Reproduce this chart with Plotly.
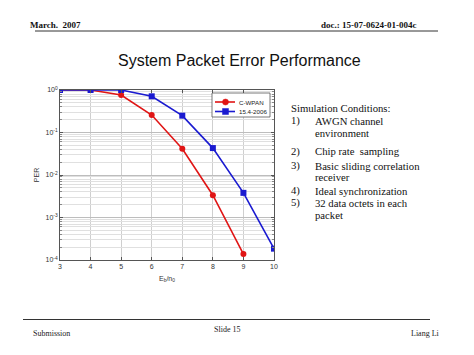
import plotly.graph_objects as go

ebn0 = [3, 4, 5, 6, 7, 8, 9, 10]
series_names = ["C-WPAN", "15.4-2006"]
cwpan_x = [3, 4, 5, 6, 7, 8, 9]
cwpan_per = [1.0, 1.0, 0.76, 0.257, 0.0415, 0.00334, 0.000138]
std_x = [3, 4, 5, 6, 7, 8, 9, 10]
std_per = [1.0, 1.0, 1.0, 0.71, 0.249, 0.043, 0.0038, 0.000185]
y_tickvals = [1e-4, 1e-3, 1e-2, 1e-1, 1e0]
y_ticktext = ["10<sup>-4</sup>", "10<sup>-3</sup>", "10<sup>-2</sup>", "10<sup>-1</sup>", "10<sup>0</sup>"]
y_minor = [m * 10.0 ** e for e in range(-4, 0) for m in range(2, 10)]
conditions = [
    ("", "Simulation Conditions:"),
    ("1)", "AWGN channel"),
    ("", "environment"),
    ("2)", "Chip rate  sampling"),
    ("3)", "Basic sliding correlation"),
    ("", "receiver"),
    ("4)", "Ideal synchronization"),
    ("5)", "32 data octets in each"),
    ("", "packet"),
]
cond_y = [108, 120.5, 132.5, 151, 165.5, 177, 190.5, 202.5, 214.5]

RED = "#e01515"
BLUE = "#1a1ad0"

O = 8  # default page body margin of the HTML page
W, H = 474 - O, 355 - O
L, R, T, B = 60 - O, 274 - O, 90 - O, 260 - O

def px(x):
    return (x - O - L) / (R - L)

def py(y):
    return (B - (y - O)) / (B - T)

fig = go.Figure()
fig.add_trace(go.Scatter(x=cwpan_x, y=cwpan_per, mode="lines+markers", name=series_names[0],
                         line=dict(color=RED, width=1.6),
                         marker=dict(symbol="circle", size=6, color=RED)))
fig.add_trace(go.Scatter(x=std_x, y=std_per, mode="lines+markers", name=series_names[1],
                         line=dict(color=BLUE, width=1.6),
                         marker=dict(symbol="square", size=6, color=BLUE)))
# invisible trace to activate the minor-grid overlay axis
fig.add_trace(go.Scatter(x=[3], y=[1], yaxis="y2", mode="markers", marker=dict(opacity=0),
                         showlegend=False, hoverinfo="skip"))

axis_font = dict(family="Liberation Sans, Arial", size=7, color="#333333")
fig.update_layout(
    width=W, height=H,
    margin=dict(l=L, r=W - R, t=T, b=H - B),
    paper_bgcolor="white", plot_bgcolor="white",
    showlegend=False,
    xaxis=dict(range=[3, 10], tickvals=ebn0, showgrid=True, gridcolor="#cfcfcf",
               gridwidth=0.8, ticks="inside", ticklen=3, tickcolor="#555555",
               showline=True, linecolor="#555555", linewidth=0.8, mirror="ticks",
               zeroline=False, tickfont=axis_font,
               title=dict(text="E<sub>b</sub>/n<sub>0</sub>", font=axis_font, standoff=6)),
    yaxis=dict(type="log", range=[-4, 0], tickvals=y_tickvals, ticktext=y_ticktext,
               showgrid=True, gridcolor="#bdbdbd", gridwidth=1.2,
               ticks="inside", ticklen=3, tickcolor="#555555",
               showline=True, linecolor="#555555", linewidth=0.8, mirror="ticks",
               zeroline=False, tickfont=axis_font,
               title=dict(text="PER", font=axis_font, standoff=5)),
    yaxis2=dict(type="log", range=[-4, 0], overlaying="y", tickvals=y_minor,
                showticklabels=False, showgrid=True, gridcolor="#e0e0e0", gridwidth=0.6,
                ticks="inside", ticklen=2, tickcolor="#888888",
                showline=False, mirror="ticks", zeroline=False),
)

hdr = dict(family="Liberation Serif, Times New Roman", size=9, color="#111111")
ann = []
ann.append(dict(x=px(28), y=py(25), xref="paper", yref="paper", text="<b>March.  2007</b>",
                showarrow=False, xanchor="left", yanchor="middle", font=hdr))
ann.append(dict(x=px(418), y=py(25), xref="paper", yref="paper", text="<b>doc.: 15-07-0624-01-004c</b>",
                showarrow=False, xanchor="right", yanchor="middle", font=hdr))
ann.append(dict(x=px(239), y=py(61), xref="paper", yref="paper", text="System Packet Error Performance",
                showarrow=False, xanchor="center", yanchor="middle",
                font=dict(family="Liberation Sans, Arial", size=16, color="#111111")))
ft = dict(family="Liberation Serif, Times New Roman", size=8, color="#222222")
ann.append(dict(x=px(31), y=py(333), xref="paper", yref="paper", text="Submission",
                showarrow=False, xanchor="left", yanchor="middle", font=ft))
ann.append(dict(x=px(227), y=py(329), xref="paper", yref="paper", text="Slide 15",
                showarrow=False, xanchor="center", yanchor="middle", font=ft))
ann.append(dict(x=px(442), y=py(333), xref="paper", yref="paper", text="Liang Li",
                showarrow=False, xanchor="right", yanchor="middle", font=ft))
cf = dict(family="Liberation Serif, Times New Roman", size=10.7, color="#111111")
for (num, txt), yy in zip(conditions, cond_y):
    if txt.startswith("Simulation"):
        ann.append(dict(x=px(289), y=py(yy), xref="paper", yref="paper", text=txt,
                        showarrow=False, xanchor="left", yanchor="middle", font=cf))
        continue
    if num:
        ann.append(dict(x=px(289), y=py(yy), xref="paper", yref="paper", text=num,
                        showarrow=False, xanchor="left", yanchor="middle", font=cf))
    ann.append(dict(x=px(313), y=py(yy), xref="paper", yref="paper", text=txt,
                    showarrow=False, xanchor="left", yanchor="middle", font=cf))

# compact MATLAB-style legend
lf = dict(family="Liberation Sans, Arial", size=6.2, color="#222222")
leg_rows = [(102, RED, "circle"), (111.5, BLUE, "square")]
fig.add_shape(type="rect", xref="paper", yref="paper", x0=px(212), x1=px(270), y0=py(93), y1=py(117),
              line=dict(color="#555555", width=0.8), fillcolor="white", layer="above")
for (yy, col, sym), name in zip(leg_rows, series_names):
    fig.add_shape(type="line", xref="paper", yref="paper", x0=px(215), x1=px(235), y0=py(yy), y1=py(yy),
                  line=dict(color=col, width=1.6), layer="above")
    kind = "circle" if sym == "circle" else "rect"
    fig.add_shape(type=kind, xref="paper", yref="paper", x0=px(222.5), x1=px(228.5),
                  y0=py(yy - 3), y1=py(yy + 3), line=dict(color=col, width=0.5), fillcolor=col,
                  layer="above")
    ann.append(dict(x=px(237), y=py(yy), xref="paper", yref="paper", text=name,
                    showarrow=False, xanchor="left", yanchor="middle", font=lf))
fig.update_layout(annotations=ann)

fig.add_shape(type="line", xref="paper", yref="paper", x0=px(35), x1=px(438), y0=py(31), y1=py(31),
              line=dict(color="#333333", width=1))
fig.add_shape(type="line", xref="paper", yref="paper", x0=px(23), x1=px(430), y0=py(319.5), y1=py(319.5),
              line=dict(color="#333333", width=1))

fig.write_html("out.html")
